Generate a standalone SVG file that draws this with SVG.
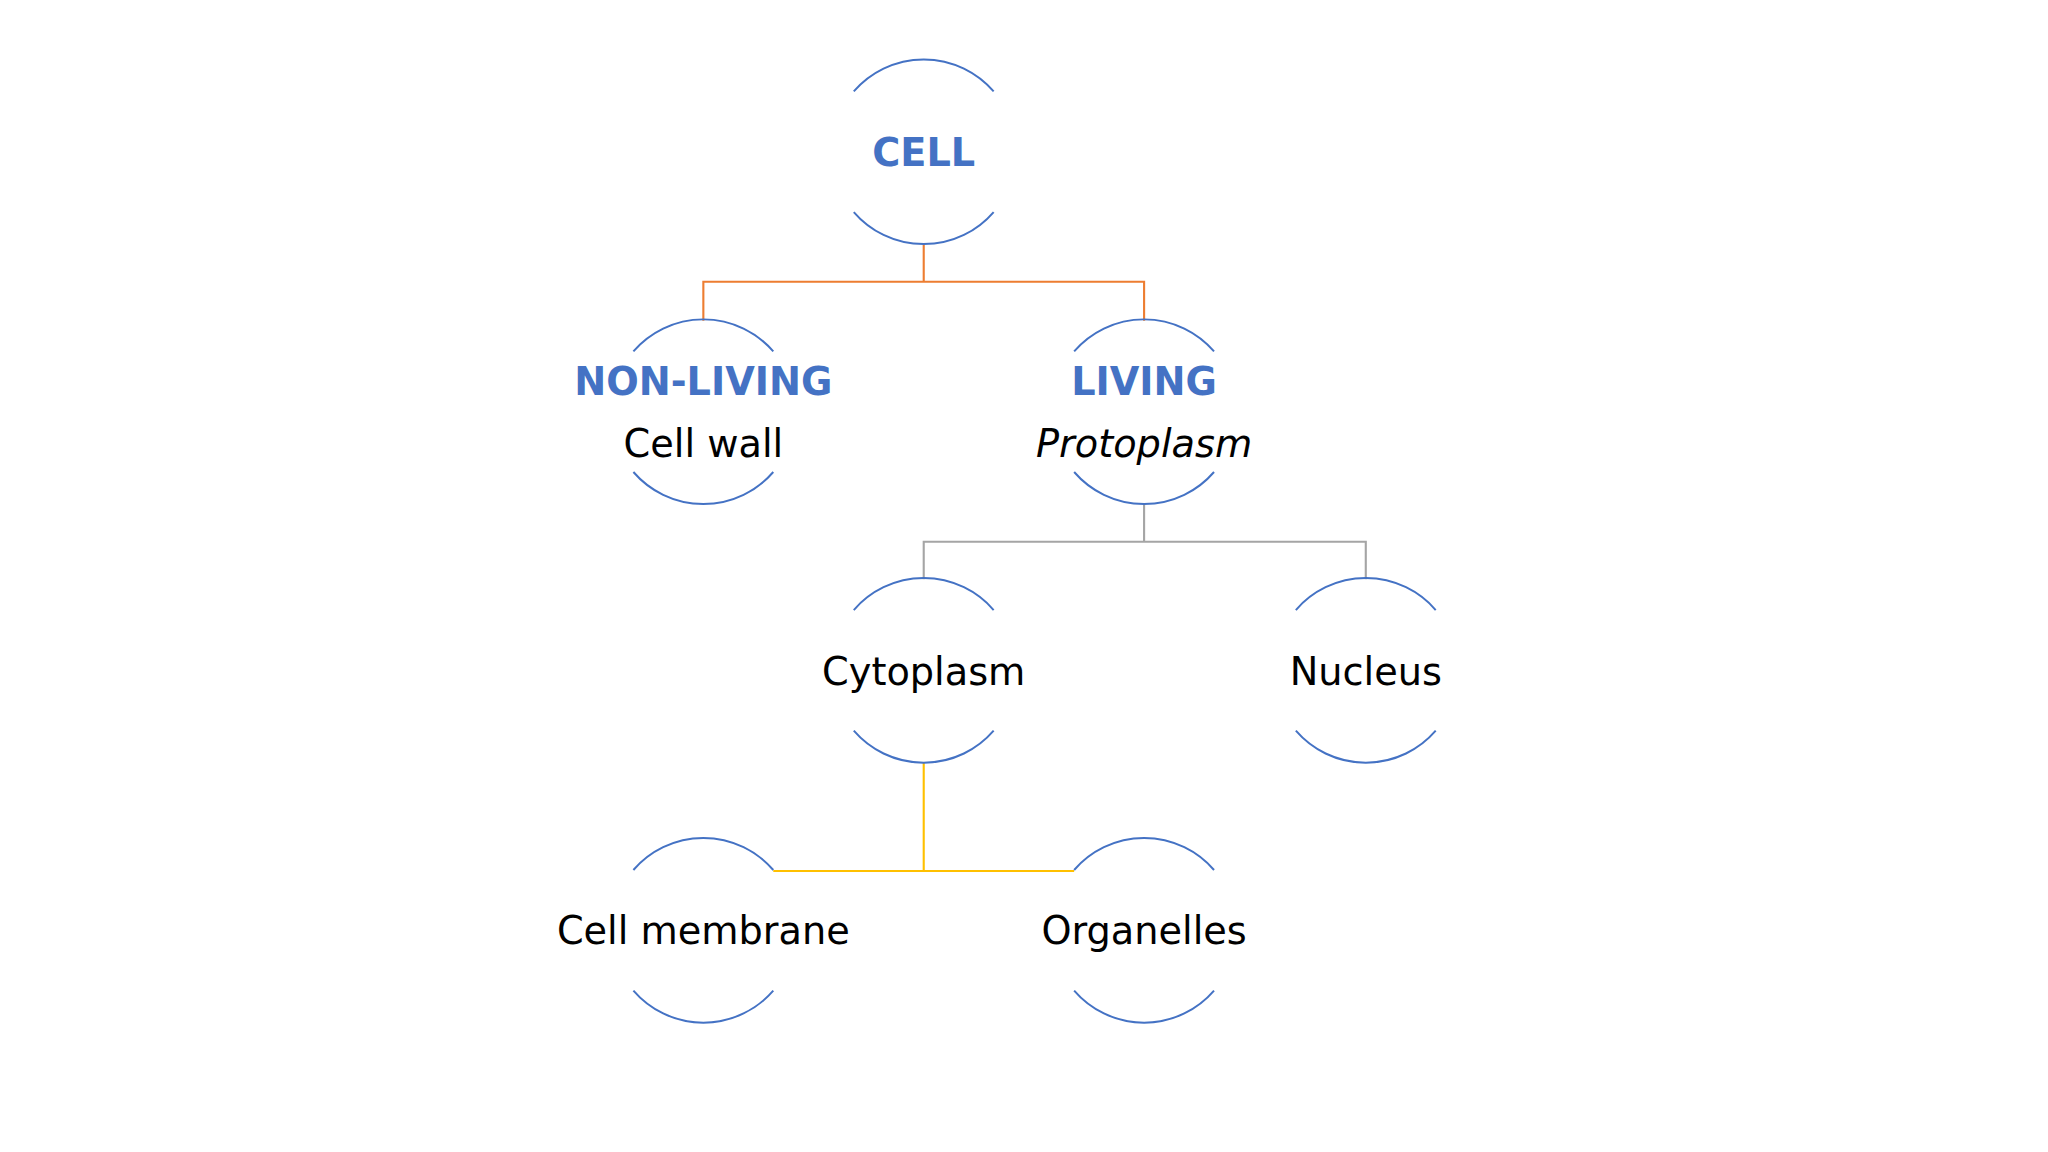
<svg xmlns="http://www.w3.org/2000/svg" width="2048" height="1152" viewBox="0 0 2048 1152">
<style>
.arc{fill:none;stroke:#4472C4;stroke-width:1.5}
.t{font-family:"DejaVu Sans",Verdana,sans-serif;font-size:29px;text-anchor:middle;fill:#000}
.h{font-weight:bold;fill:#4472C4}
.c{fill:none;stroke-width:1.6}
</style>
<defs>
<g id="ring">
<path class="arc" d="M-53,-45.7 A70,70 0 0 1 53,-45.7"/>
<path class="arc" d="M-53,45.7 A70,70 0 0 0 53,45.7"/>
</g>
</defs>
<rect width="2048" height="1152" fill="#fff"/>
<g transform="scale(1.3196)">
<g id="connectors">
<path class="c" stroke="#ED7D31" d="M700,185V213.5M533,243V213.5H867V243"/>
<path class="c" stroke="#A5A5A5" d="M867,382V410.5M700,439V410.5H1035V439"/>
<path class="c" stroke="#FFC000" d="M700,578V660M586,660H814"/>
</g>
<g id="cell"><use href="#ring" x="700" y="115"/><text class="t h" x="700" y="126">CELL</text></g>
<g id="nonliving"><use href="#ring" x="533" y="312"/><text class="t h" x="533" y="299">NON-LIVING</text><text class="t" x="533" y="346">Cell wall</text></g>
<g id="living"><use href="#ring" x="867" y="312"/><text class="t h" x="867" y="299">LIVING</text><text class="t" x="867" y="346" font-style="italic">Protoplasm</text></g>
<g id="cytoplasm"><use href="#ring" x="700" y="508"/><text class="t" x="700" y="519">Cytoplasm</text></g>
<g id="nucleus"><use href="#ring" x="1035" y="508"/><text class="t" x="1035" y="519">Nucleus</text></g>
<g id="membrane"><use href="#ring" x="533" y="705"/><text class="t" x="533" y="715">Cell membrane</text></g>
<g id="organelles"><use href="#ring" x="867" y="705"/><text class="t" x="867" y="715">Organelles</text></g>
</g>
</svg>
